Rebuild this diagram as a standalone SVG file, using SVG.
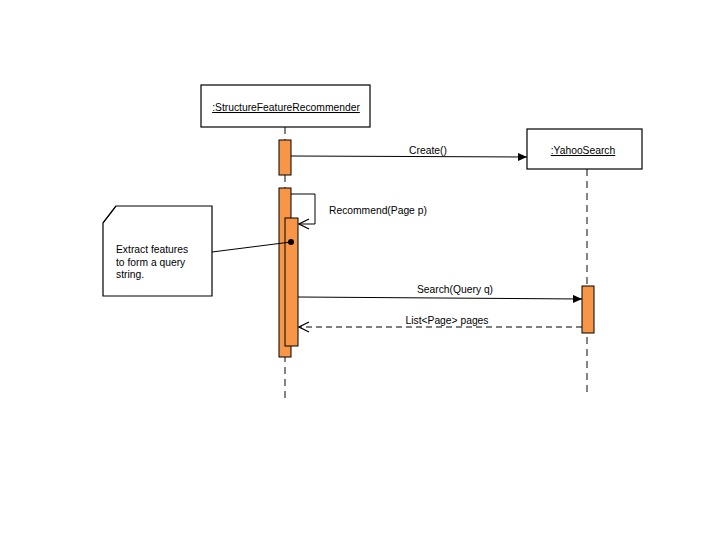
<svg xmlns="http://www.w3.org/2000/svg" width="728" height="546" viewBox="0 0 728 546">
<defs>
<style>
.box{fill:#fff;stroke:#000;stroke-width:1.2}
.act{fill:#f79646;stroke:#000;stroke-width:1}
.life{stroke:#333;stroke-width:1.2;stroke-dasharray:7,5;fill:none}
.msg{stroke:#000;stroke-width:1;fill:none}
.ret{stroke:#000;stroke-width:1;fill:none;stroke-dasharray:6,4}
text{font-family:"Liberation Sans",Arial,sans-serif;font-size:10.3px;fill:#000}
.u{text-decoration:underline}
</style>
<marker id="filled" markerWidth="10" markerHeight="8" refX="9" refY="4" orient="auto" markerUnits="userSpaceOnUse">
<path d="M0,0 L9,4 L0,8 Z" fill="#000"/>
</marker>
<marker id="open" markerWidth="12" markerHeight="12" refX="11" refY="6" orient="auto" markerUnits="userSpaceOnUse">
<path d="M1,1 L11,6 L1,11" fill="none" stroke="#000" stroke-width="1.3"/>
</marker>
</defs>
<rect width="728" height="546" fill="#fff"/>
<g id="lifelines">
<line class="life" x1="285" y1="127" x2="285" y2="400"/>
<line class="life" x1="587" y1="169" x2="587" y2="395"/>
</g>
<g id="sfr">
<rect class="box" x="201" y="85" width="169" height="42"/>
<text x="286" y="111" text-anchor="middle" class="u">:StructureFeatureRecommender</text>
</g>
<g id="yahoo">
<rect class="box" x="527" y="129" width="115" height="40"/>
<text x="583" y="154" text-anchor="middle" class="u">:YahooSearch</text>
</g>
<g id="activations">
<rect class="act" x="279" y="140" width="12" height="35"/>
<rect class="act" x="279" y="188" width="12" height="169"/>
<rect class="act" x="285" y="218" width="13" height="128"/>
<rect class="act" x="582" y="286" width="12" height="47"/>
</g>
<g id="note">
<path class="box" d="M116,206 L212,206 L212,296 L103,296 L103,223 Z"/>
<path d="M103,223 L116,206" fill="none" stroke="#000" stroke-width="1.2"/>
<text x="116" y="253">Extract features</text>
<text x="116" y="265.5">to form a query</text>
<text x="116" y="278">string.</text>
</g>
<g id="connectors">
<line class="msg" x1="291" y1="156" x2="527" y2="157" marker-end="url(#filled)"/>
<text x="428" y="154" text-anchor="middle">Create()</text>
<path class="msg" d="M291,194 L315,194 L315,224 L299,224" marker-end="url(#open)"/>
<text x="329" y="214">Recommend(Page p)</text>
<line class="msg" x1="298" y1="297" x2="582" y2="299" marker-end="url(#filled)"/>
<text x="455" y="293" text-anchor="middle">Search(Query q)</text>
<line class="ret" x1="582" y1="327" x2="299" y2="327" marker-end="url(#open)"/>
<text x="447" y="324" text-anchor="middle">List&lt;Page&gt; pages</text>
<line class="msg" x1="212" y1="252" x2="291" y2="242"/>
<circle cx="291" cy="242" r="3" fill="#000"/>
</g>
</svg>
